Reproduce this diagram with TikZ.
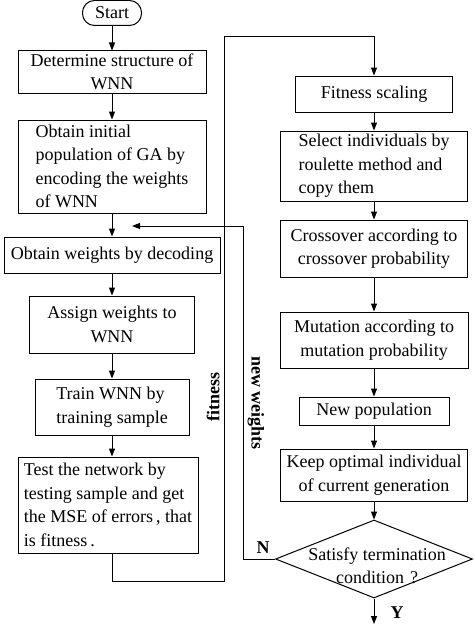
\documentclass[tikz,border=0pt]{standalone}
\usepackage{fontspec}
\setmainfont{Liberation Serif}
\usetikzlibrary{shapes.geometric,arrows.meta}
\begin{document}
\begin{tikzpicture}[x=1pt,y=-1pt,line width=1pt,
  every node/.style={font=\fontsize{18}{23.5}\selectfont,inner sep=0pt},
  box/.style={draw,align=center},
  lbox/.style={draw,align=left},
  arr/.style={-{Triangle[length=8pt,width=6pt]}},
  lab/.style={font=\fontsize{18}{20}\selectfont\bfseries}]
\useasboundingbox (0,0) rectangle (474,626);
% WNN side
\node[draw,rounded corners=12pt,minimum width=59pt,minimum height=25pt] (start) at (112,13) {Start};
\node[box,minimum width=188pt,minimum height=42pt] (det) at (112,72) {Determine structure of\\WNN};
\node[lbox,minimum width=188pt,minimum height=93pt] (init) at (112,166.5) {Obtain initial\\population of GA by\\encoding the weights\\of WNN};
\node[box,minimum width=216pt,minimum height=36pt] (dec) at (112,255) {Obtain weights by decoding};
\node[box,minimum width=165pt,minimum height=57pt] (assign) at (112,324.5) {Assign weights to\\WNN};
\node[lbox,minimum width=154pt,minimum height=56pt] (train) at (112,407) {Train WNN by\\training sample};
\node[lbox,minimum width=180pt,minimum height=96pt] (test) at (108,505) {Test the network by\\testing sample and get\\the MSE of errors\,, that\\is fitness\,.};
\draw[arr] (start) -- (det);
\draw[arr] (det) -- (init);
\draw[arr] (init) -- (dec);
\draw[arr] (dec) -- (assign);
\draw[arr] (assign) -- (train);
\draw[arr] (train) -- (train |- test.north);
% GA side
\node[box,minimum width=157pt,minimum height=36pt] (fs) at (374,94) {Fitness scaling};
\node[lbox,minimum width=187pt,minimum height=70pt] (sel) at (374,166) {Select individuals by\\roulette method and\\copy them};
\node[box,minimum width=187pt,minimum height=57pt] (cross) at (374,248.5) {Crossover according to\\crossover probability};
\node[box,minimum width=188pt,minimum height=56pt] (mut) at (374,340) {Mutation according to\\mutation probability};
\node[box,minimum width=150pt,minimum height=28pt] (newpop) at (374,411) {New population};
\node[box,minimum width=187pt,minimum height=52pt] (keep) at (374,475) {Keep optimal individual\\of current generation};
\node[draw,diamond,minimum width=197pt,minimum height=78pt] (cond) at (374,559) {};
\node[align=center] (condtxt) at (377,566) {Satisfy termination\\condition\,\,?};
\draw[arr] (fs) -- (sel);
\draw[arr] (sel) -- (cross);
\draw[arr] (cross) -- (mut);
\draw[arr] (mut) -- (newpop);
\draw[arr] (newpop) -- (keep);
\draw[arr] (keep) -- (cond);
% loops
\coordinate (fitlow) at (112,581);
\coordinate (fittop) at (224,37);
\draw[arr] (test.south -| fitlow) -- (fitlow) -| (fittop) -| (fs);
\coordinate (nwtop) at (243,226);
\coordinate (merge) at (132,226);
\draw[arr] (cond.west) -| (nwtop) -- (merge);
\coordinate (yend) at (374,624);
\draw[arr] (cond) -- (yend);
\node[lab,rotate=90] (fitlbl) at (213,397) {fitness};
\node[lab,rotate=-90] (nwlbl) at (256,403) {new weights};
\node[lab] (nlbl) at (263,548) {N};
\node[lab] (ylbl) at (397,613) {Y};
\end{tikzpicture}
\end{document}
